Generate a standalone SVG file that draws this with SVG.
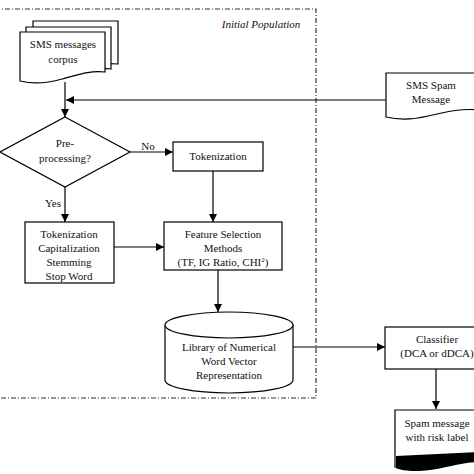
<svg xmlns="http://www.w3.org/2000/svg" width="474" height="474" viewBox="0 0 474 474">
<defs>
<marker id="ah" viewBox="0 0 10 10" refX="10" refY="5" markerWidth="8" markerHeight="8" markerUnits="userSpaceOnUse" orient="auto">
<path d="M0,0 L10,5 L0,10 Z" fill="#000"/>
</marker>
<style>
.s{fill:#fff;stroke:#000;stroke-width:1.2}
.t{font-family:'Liberation Serif','DejaVu Serif',serif;font-size:11px;fill:#111;text-anchor:middle}
.c{stroke:#000;stroke-width:1.2;fill:none;marker-end:url(#ah)}
</style>
</defs>
<rect width="474" height="474" fill="#fff"/>
<g id="boundary">
<rect x="-5" y="9" width="321" height="389" fill="none" stroke="#333" stroke-width="1.2" stroke-dasharray="5,2,1,2"/>
<text x="261" y="28" class="t" font-style="italic">Initial Population</text>
</g>
<g id="corpus">
<path class="s" d="M33,21 H118 V64 C100,62 90,66 80,68 H33 Z"/>
<path class="s" d="M26,27 H111 V69 C95,67 85,71 75,74 H26 Z"/>
<path class="s" d="M20,32 H105 V72 C88,70 75,76 62,79 C48,83 32,84 20,81 Z"/>
<text x="63" y="48" class="t">SMS messages</text>
<text x="63" y="63" class="t">corpus</text>
</g>
<g id="spam-msg">
<path class="s" d="M386,73 H480 V110 C462,108 445,112 428,116 C412,120 398,120 386,117 Z"/>
<text x="431" y="89" class="t">SMS Spam</text>
<text x="431" y="103" class="t">Message</text>
</g>
<g id="decision">
<path class="s" d="M65,117 L130,152 L65,187 L0,152 Z"/>
<text x="65" y="147" class="t">Pre-</text>
<text x="65" y="162" class="t">processing?</text>
</g>
<g id="tokenization">
<rect class="s" x="173" y="142" width="90" height="29"/>
<text x="218" y="160" class="t">Tokenization</text>
</g>
<g id="preprocess">
<rect class="s" x="25" y="222" width="89" height="61"/>
<text x="69" y="238" class="t">Tokenization</text>
<text x="69" y="252" class="t">Capitalization</text>
<text x="69" y="266" class="t">Stemming</text>
<text x="69" y="280" class="t">Stop Word</text>
</g>
<g id="feature">
<rect class="s" x="164" y="222" width="118" height="48"/>
<text x="223" y="238" class="t">Feature Selection</text>
<text x="223" y="252" class="t">Methods</text>
<text x="223" y="266" class="t">(TF, IG Ratio, CHI<tspan font-size="7" dy="-4">2</tspan><tspan dy="4">)</tspan></text>
</g>
<g id="library">
<path class="s" d="M165,325 V380 A64,13 0 0 0 293,380 V325"/>
<ellipse class="s" cx="229" cy="325" rx="64" ry="13"/>
<text x="229" y="351" class="t">Library of Numerical</text>
<text x="229" y="365" class="t">Word Vector</text>
<text x="229" y="379" class="t">Representation</text>
</g>
<g id="classifier">
<rect class="s" x="385" y="327" width="104" height="42"/>
<text x="437" y="343" class="t">Classifier</text>
<text x="437" y="357" class="t">(DCA or dDCA)</text>
</g>
<g id="output">
<path class="s" d="M395,410 H480 V460 C462,460 445,466 430,468 C415,470 402,469 395,467 Z"/>
<path d="M396,456 L480,452 L480,462 C462,462 446,468 430,470 C415,472 402,471 396,468 Z" fill="#000"/>
<text x="437" y="427" class="t">Spam message</text>
<text x="437" y="441" class="t">with risk label</text>
</g>
<g id="connectors">
<line class="c" x1="65" y1="82" x2="65" y2="117"/>
<line class="c" x1="386" y1="100" x2="66" y2="100"/>
<line class="c" x1="130" y1="152" x2="173" y2="152"/>
<line class="c" x1="65" y1="187" x2="65" y2="222"/>
<line class="c" x1="213" y1="171" x2="213" y2="222"/>
<line class="c" x1="114" y1="247" x2="164" y2="247"/>
<line class="c" x1="218" y1="270" x2="218" y2="312"/>
<line class="c" x1="293" y1="347" x2="385" y2="347"/>
<line class="c" x1="436" y1="369" x2="436" y2="409"/>
<text x="148" y="150" class="t">No</text>
<text x="53" y="207" class="t">Yes</text>
</g>
</svg>
